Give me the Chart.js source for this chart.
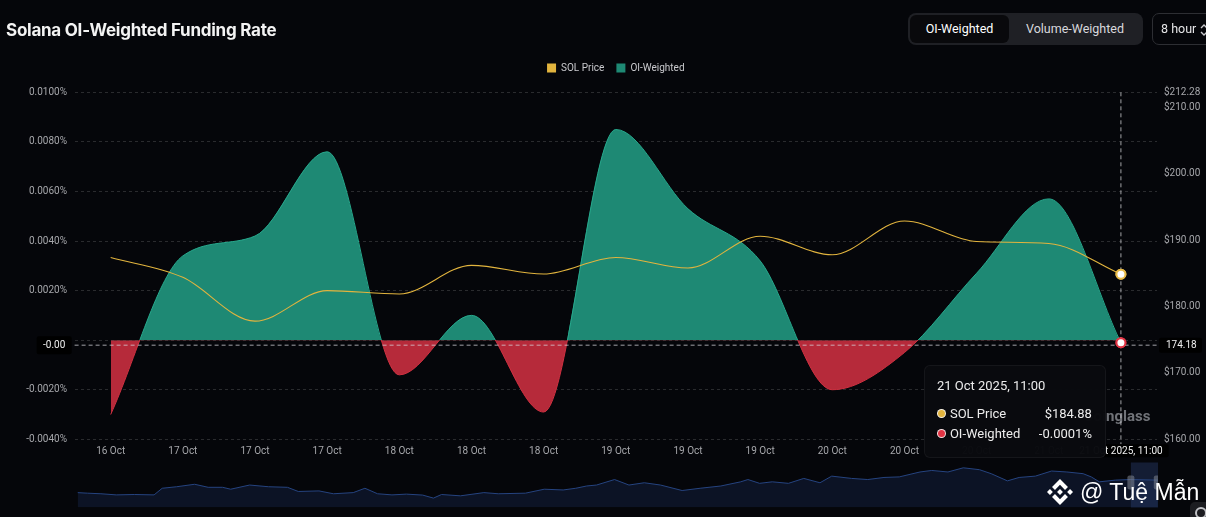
<!DOCTYPE html>
<html><head><meta charset="utf-8">
<script src="https://cdn.jsdelivr.net/npm/chart.js@4.4.1/dist/chart.umd.min.js"></script>
<style>
html,body{margin:0;padding:0;background:#05060a;}
body{width:1206px;height:517px;overflow:hidden;position:relative;font-family:Roboto,"Noto Sans",sans-serif;}
#mainWrap{position:absolute;left:0;top:0;width:1206px;height:460px;}
#navWrap{position:absolute;left:76.6px;top:462px;width:1081.4px;height:46px;}
#title{position:absolute;left:6px;top:20px;font:700 17px Inter,Roboto,sans-serif;color:#f3f3f3;letter-spacing:-0.25px;white-space:nowrap;z-index:3;}
#seg{position:absolute;left:908px;top:13px;width:235px;height:32px;box-sizing:border-box;background:#1f2025;border-radius:8px;z-index:3;}
#seg .on{position:absolute;left:2px;top:2px;width:99px;height:28px;background:#09090c;border-radius:6px;color:#fff;font-size:12.5px;line-height:28px;text-align:center;}
#seg .off{position:absolute;left:101px;top:2px;width:132px;height:28px;color:#d9d9dd;font-size:12.5px;line-height:28px;text-align:center;}
#sel{position:absolute;left:1152px;top:13px;width:80px;height:32px;box-sizing:border-box;border:1px solid #2d2e33;border-radius:7px;color:#e6e6e8;font-size:12.5px;line-height:30px;padding-left:8px;z-index:3;}
#sel svg{position:absolute;left:46px;top:9px;}
#tip{position:absolute;box-sizing:border-box;width:182px;height:93px;background:rgba(9,10,14,0.98);border:1px solid rgba(255,255,255,0.05);border-radius:6px;padding:11px 13px 0 12px;color:#ececec;font-size:13px;opacity:0;z-index:5;}
#tip .t{line-height:18px;margin-bottom:9px;white-space:nowrap;}
#tip .r{display:flex;align-items:center;height:19.4px;white-space:nowrap;}
#tip .d{width:7px;height:7px;border-radius:50%;border:1px solid rgba(255,255,255,.85);margin-right:4px;flex:none;}
#tip .n{flex:1;}
#wm{position:absolute;left:1047px;top:479px;height:26px;display:flex;align-items:center;z-index:6;}
#wm span{margin-left:7px;font:400 23px "Liberation Sans",Arial,sans-serif;color:#fff;white-space:nowrap;}
#gear{position:absolute;left:1190px;top:502px;width:22px;height:22px;background:#1c1d21;border-radius:5px;z-index:6;}
#gear i{position:absolute;left:5px;top:5px;width:8px;height:8px;border:2px solid #bfc0c4;border-radius:50%;}
</style></head>
<body>
<div id="mainWrap"><canvas id="main"></canvas></div>
<div id="navWrap"><canvas id="nav"></canvas></div>
<div id="title">Solana OI-Weighted Funding Rate</div>
<div id="seg"><div class="on">OI-Weighted</div><div class="off">Volume-Weighted</div></div>
<div id="sel">8 hour<svg width="10" height="14" viewBox="0 0 10 14"><path d="M2 5l3-3 3 3M2 9l3 3 3-3" fill="none" stroke="#c8c8cc" stroke-width="1.4"/></svg></div>
<div id="tip"></div>
<div id="wm"><svg width="26" height="26" viewBox="0 0 24 24"><path fill="#ffffff" d="M16.624 13.9202l2.7175 2.7154-7.353 7.353-7.353-7.352 2.7175-2.7164 4.6355 4.6595 4.6356-4.6595zm4.6366-4.6366L24 12l-2.7154 2.7164L18.5682 12l2.6924-2.7164zm-9.272.001l2.7163 2.6914-2.7164 2.7174v-.001L9.2721 12l2.7164-2.7154zm-9.2722-.001L5.4088 12l-2.6914 2.6924L0 12l2.7164-2.7164zM11.9885.0115l7.353 7.329-2.7174 2.7154-4.6356-4.6356-4.6355 4.6595-2.7174-2.7154 7.353-7.353z"/></svg><span>@ Tuệ Mẫn</span></div>
<div id="gear"><i></i></div>
<script>
// ---- data ----
const labels = ['16 Oct 2025, 19:00','17 Oct 2025, 03:00','17 Oct 2025, 11:00','17 Oct 2025, 19:00','18 Oct 2025, 03:00','18 Oct 2025, 11:00','18 Oct 2025, 19:00','19 Oct 2025, 03:00','19 Oct 2025, 11:00','19 Oct 2025, 19:00','20 Oct 2025, 03:00','20 Oct 2025, 11:00','20 Oct 2025, 19:00','21 Oct 2025, 03:00','21 Oct 2025, 11:00'];
const solPrice = [187.4,184.4,177.8,182.4,181.9,186.2,184.9,187.4,185.8,190.6,187.8,192.9,189.8,189.5,184.88];
const oiWeighted = [-0.0030,0.0034,0.0042,0.0076,-0.0014,0.0010,-0.0029,0.0085,0.0053,0.0032,-0.0020,-0.0005,0.0027,0.0057,-0.0001];
const fundingTicks = [-0.004,-0.002,0,0.002,0.004,0.006,0.008,0.010];
const priceTicks = [160,170,180,190,200,210,212.28];
const crosshairPrice = 174.18;
// navigator (hours from 16 Oct 19:00, SOL price)
const navHours = [-3.8,-2.7,-1.2,0.5,2.5,4.7,5.6,7.2,9.2,10.7,12.3,13.2,15.3,17.4,19.5,20.7,23.0,24.6,26.8,28.1,29.5,31.1,32.7,34.5,35.7,36.6,38.7,41.3,42.9,45.9,48.0,50.1,51.5,52.7,53.8,55.8,57.4,59.1,60.9,63.3,65.3,67.6,69.8,70.6,71.9,73.3,75.1,76.8,78.6,79.9,82.1,83.9,85.7,87.4,89.7,91.0,92.8,94.5,96.3,97.6,99.4,100.7,102.5,104.3,106.0,107.8,108.7,109.6,111.4,113.1,116.1];
const navPrice = [179.7,179.4,179.1,178.5,178.7,178.5,182.0,182.8,184.1,182.5,182.5,181.5,183.7,182.8,182.5,180.3,180.6,179.1,179.7,182.0,179.1,178.5,178.9,178.4,176.8,178.7,178.0,179.7,179.1,179.4,181.5,181.1,182.0,183.2,183.7,186.6,183.7,184.9,183.7,180.8,182.0,183.2,185.4,186.6,184.6,185.4,184.6,187.2,184.9,188.4,187.2,186.6,187.7,188.0,190.6,191.4,190.6,192.8,191.8,189.7,185.9,187.7,188.4,191.1,190.6,189.7,188.0,185.4,186.3,186.6,186.3];
const navWindow = [113.1, 116.2];

// ---- colours ----
const YELLOW = 'rgb(226,180,62)';
const GREEN = 'rgb(30,137,116)';
const GREEN_LINE = 'rgb(38,168,140)';
const RED = 'rgb(182,42,58)';
const RED_LINE = 'rgb(206,48,64)';
const RED_DOT = 'rgb(226,52,68)';

Chart.defaults.font.family = 'Roboto, "Noto Sans", sans-serif';
Chart.defaults.color = '#a6a7ab';

function zeroSplitColor(ctx) {
  const chart = ctx.chart; const a = chart.chartArea;
  if (!a) return GREEN_LINE;
  const y0 = chart.scales.y.getPixelForValue(0);
  const f = Math.min(1, Math.max(0, (y0 - a.top) / (a.bottom - a.top)));
  const g = chart.ctx.createLinearGradient(0, a.top, 0, a.bottom);
  g.addColorStop(0, GREEN_LINE); g.addColorStop(f, GREEN_LINE);
  g.addColorStop(f, RED_LINE); g.addColorStop(1, RED_LINE);
  return g;
}

function box(ctx, x, y, w, h) {
  ctx.fillStyle = '#000';
  ctx.beginPath();
  if (ctx.roundRect) ctx.roundRect(x, y, w, h, 2); else ctx.rect(x, y, w, h);
  ctx.fill();
}

const crosshairPlugin = {
  id: 'crosshair',
  afterDatasetsDraw(chart) {
    const {ctx, chartArea: a, scales} = chart;
    const act = chart.getActiveElements();
    // watermark
    ctx.save();
    ctx.font = '700 15px Roboto, sans-serif';
    ctx.fillStyle = 'rgba(125,127,133,0.9)';
    ctx.textBaseline = 'middle'; ctx.textAlign = 'left';
    ctx.fillText('Coinglass', a.right - 73.2, 417.7);
    ctx.restore();
    if (!act.length) return;
    const idx = act[0].index;
    const x = scales.x.getPixelForValue(idx);
    const y = scales.yR.getPixelForValue(crosshairPrice);
    ctx.save();
    ctx.strokeStyle = 'rgba(215,215,220,0.75)'; ctx.lineWidth = 1; ctx.setLineDash([4, 3]);
    ctx.beginPath();
    ctx.moveTo(x, a.top); ctx.lineTo(x, a.bottom + 5);
    ctx.moveTo(a.left, y); ctx.lineTo(a.right, y);
    ctx.stroke();
    ctx.setLineDash([]);
    // redraw hovered points above the crosshair
    act.forEach(e => chart.getDatasetMeta(e.datasetIndex).data[e.index].draw(ctx, a));
    ctx.font = '10px Roboto, sans-serif';
    ctx.textBaseline = 'middle';
    // left label
    const lv = scales.y.getValueForPixel(y).toFixed(2);
    box(ctx, a.left - 37.9, y - 9, 35, 18);
    ctx.fillStyle = '#f0f0f0'; ctx.textAlign = 'center';
    ctx.fillText(lv, a.left - 20.4, y);
    // right label
    const rv = scales.yR.getValueForPixel(y).toFixed(2);
    box(ctx, a.right + 2, y - 7.5, 43, 15);
    ctx.fillStyle = '#f0f0f0'; ctx.textAlign = 'left';
    ctx.fillText(rv, a.right + 9, y);
    // bottom label
    const xl = chart.data.labels[idx];
    const w = ctx.measureText(xl).width + 12;
    box(ctx, x - w / 2, a.bottom + 5, w, 13);
    ctx.fillStyle = '#f0f0f0'; ctx.textAlign = 'center';
    ctx.fillText(xl, x, a.bottom + 11.8);
    ctx.restore();
  }
};

function externalTip(context) {
  const {chart, tooltip} = context;
  const el = document.getElementById('tip');
  if (!tooltip.opacity) { el.style.opacity = 0; return; }
  const rows = tooltip.dataPoints.map(dp => {
    const v = dp.parsed.y;
    const val = dp.datasetIndex === 0 ? '$' + v.toFixed(2) : v.toFixed(4) + '%';
    const col = dp.datasetIndex === 0 ? YELLOW : (v < 0 ? RED_DOT : GREEN);
    return '<div class="r"><span class="d" style="background:' + col + '"></span><span class="n">' + dp.dataset.label + '</span><span class="v">' + val + '</span></div>';
  }).join('');
  el.innerHTML = '<div class="t">' + tooltip.title[0] + '</div>' + rows;
  el.style.left = (tooltip.caretX - 197) + 'px';
  el.style.top = (chart.chartArea.bottom - 74.3) + 'px';
  el.style.opacity = 1;
}

const main = new Chart(document.getElementById('main'), {
  type: 'line',
  data: {
    labels: labels,
    datasets: [
      {label: 'SOL Price', data: solPrice, yAxisID: 'yR', borderColor: YELLOW, backgroundColor: YELLOW,
       borderWidth: 1.1, pointRadius: 0, pointHoverRadius: 4.5, pointHoverBorderWidth: 2,
       pointHoverBackgroundColor: '#ffffff', pointHoverBorderColor: 'rgb(232,186,70)',
       cubicInterpolationMode: 'monotone', fill: false},
      {label: 'OI-Weighted', data: oiWeighted, yAxisID: 'y', borderColor: zeroSplitColor, backgroundColor: GREEN,
       fill: {target: 'origin', above: GREEN, below: RED}, borderWidth: 1, pointRadius: 0,
       pointHoverRadius: 4.5, pointHoverBorderWidth: 2, pointHoverBackgroundColor: '#ffffff',
       pointHoverBorderColor: c => (c.raw < 0 ? RED_DOT : GREEN_LINE),
       cubicInterpolationMode: 'monotone'}
    ]
  },
  options: {
    responsive: true, maintainAspectRatio: false, animation: false, events: [],
    layout: {padding: {top: 51, left: 0, right: 0, bottom: 0}},
    interaction: {mode: 'index', intersect: false},
    plugins: {
      legend: {position: 'top', align: 'center', fullSize: false,
        labels: {boxWidth: 9, boxHeight: 9, padding: 12, color: '#c9c9cd', font: {size: 10},
          generateLabels: ch => ch.data.datasets.map((d, i) => ({text: d.label, fillStyle: d.backgroundColor,
            strokeStyle: d.backgroundColor, lineWidth: 0, hidden: false, datasetIndex: i, fontColor: '#c9c9cd'}))}},
      subtitle: {display: true, text: '', position: 'top', weight: 500, padding: 0, font: {size: 9.3, lineHeight: 1}},
      tooltip: {enabled: false, mode: 'index', intersect: false, external: externalTip}
    },
    scales: {
      x: {type: 'category', offset: true,
        grid: {display: false, drawTicks: false, tickLength: 0}, border: {display: false},
        afterFit: s => { s.height = 20.7; },
        ticks: {autoSkip: false, maxRotation: 0, padding: 6.5, color: '#a6a7ab', font: {size: 10},
          callback: function (v) { return this.getLabelForValue(v).split(' ').slice(0, 2).join(' '); }}},
      y: {position: 'left', min: -0.004, max: 0.01,
        afterBuildTicks: s => { s.ticks = fundingTicks.map(v => ({value: v})); },
        afterFit: s => { s.width = 74.6; },
        grid: {color: 'rgba(255,255,255,0.15)', drawTicks: false, lineWidth: 1},
        border: {display: false, dash: [3, 3]},
        ticks: {autoSkip: false, padding: 7.6, color: '#a6a7ab', font: {size: 10},
          callback: v => (Math.abs(v) < 1e-9 ? '' : v.toFixed(4) + '%')}},
      yR: {position: 'right', min: 160, max: 212.28,
        afterBuildTicks: s => { s.ticks = priceTicks.map(v => ({value: v})); },
        afterFit: s => { s.width = 49; },
        grid: {display: false, drawTicks: false}, border: {display: false},
        ticks: {autoSkip: false, padding: 7, color: '#a6a7ab', font: {size: 10},
          callback: v => '$' + v.toFixed(2)}}
    }
  },
  plugins: [crosshairPlugin]
});

const last = labels.length - 1;
const act = [{datasetIndex: 0, index: last}, {datasetIndex: 1, index: last}];
main.setActiveElements(act);
main.tooltip.setActiveElements(act, {x: main.scales.x.getPixelForValue(last), y: main.scales.yR.getPixelForValue(crosshairPrice)});
main.update('none');

// ---- navigator ----
const navPlugin = {
  id: 'navWin',
  afterDatasetsDraw(chart) {
    const {ctx, chartArea: a, scales} = chart;
    const x0 = scales.x.getPixelForValue(navWindow[0]);
    const x1 = scales.x.getPixelForValue(navWindow[1]);
    ctx.save();
    ctx.fillStyle = 'rgba(45,68,120,0.38)';
    ctx.fillRect(x0, a.top, x1 - x0, a.bottom - a.top);
    ctx.fillStyle = 'rgba(130,134,145,0.55)';
    [x0, x1 - 1.5].forEach(hx => {
      ctx.beginPath();
      if (ctx.roundRect) ctx.roundRect(hx - 3.5, a.top + 13, 7, 14, 2); else ctx.rect(hx - 3.5, a.top + 13, 7, 14);
      ctx.fill();
    });
    ctx.restore();
  }
};
new Chart(document.getElementById('nav'), {
  type: 'line',
  data: {datasets: [{data: navHours.map((h, i) => ({x: h, y: navPrice[i]})), borderColor: 'rgb(38,68,128)',
    borderWidth: 1, backgroundColor: 'rgb(12,19,37)', fill: 'start', pointRadius: 0, tension: 0}]},
  options: {responsive: true, maintainAspectRatio: false, animation: false, events: [],
    layout: {padding: 0},
    plugins: {legend: {display: false}, tooltip: {enabled: false}},
    scales: {x: {type: 'linear', display: false, min: -3.8, max: 116.1},
             y: {display: false, min: 171.84, max: 195.6}}},
  plugins: [navPlugin]
});
</script>
</body></html>
